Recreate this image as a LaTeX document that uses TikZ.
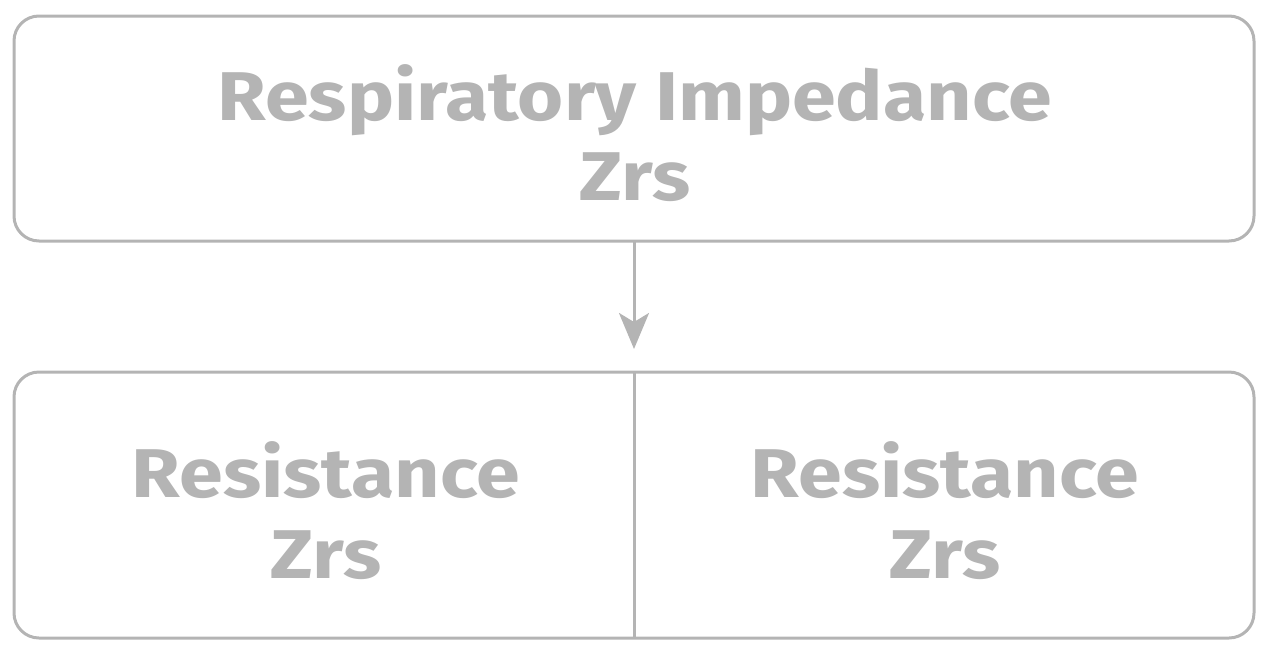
\documentclass[tikz,border=0pt]{standalone}
\usepackage{fontspec}
\setmainfont{Fira Sans}[UprightFont=* Bold, FakeStretch=1.145]
\usetikzlibrary{arrows.meta}
\definecolor{gr}{HTML}{B4B4B4}
\tikzset{
  box/.style={draw=gr, line width=3pt, rounded corners=25pt},
  lbl/.style={text=gr, font=\fontsize{69}{80}\selectfont, align=center, inner sep=0pt},
  conn/.style={draw=gr, line width=3pt, -{Stealth[length=36pt,width=30pt,inset=9pt]}},
}
\begin{document}
\begin{tikzpicture}[x=1pt,y=-1pt]
\useasboundingbox (0,0) rectangle (1280,654);
\draw[box] (14,16) rectangle (1254,241);
\coordinate (topb) at (634,241);
\node[lbl, anchor=base] (t1) at (635,120) {Respiratory Impedance};
\node[lbl, anchor=base] (t2) at (635,200) {Zrs};
\draw[box] (14,372) rectangle (1254,638);
\coordinate (divt) at (634,372);
\coordinate (divb) at (634,638);
\coordinate (tip) at (634,349);
\draw[draw=gr, line width=3pt] (divt) -- (divb);
\draw[conn] (topb) -- (tip);
\node[lbl, anchor=base] (l1) at (326,497) {Resistance};
\node[lbl, anchor=base] (l2) at (326,578) {Zrs};
\node[lbl, anchor=base] (r1) at (945,497) {Resistance};
\node[lbl, anchor=base] (r2) at (945,578) {Zrs};
\end{tikzpicture}
\end{document}
